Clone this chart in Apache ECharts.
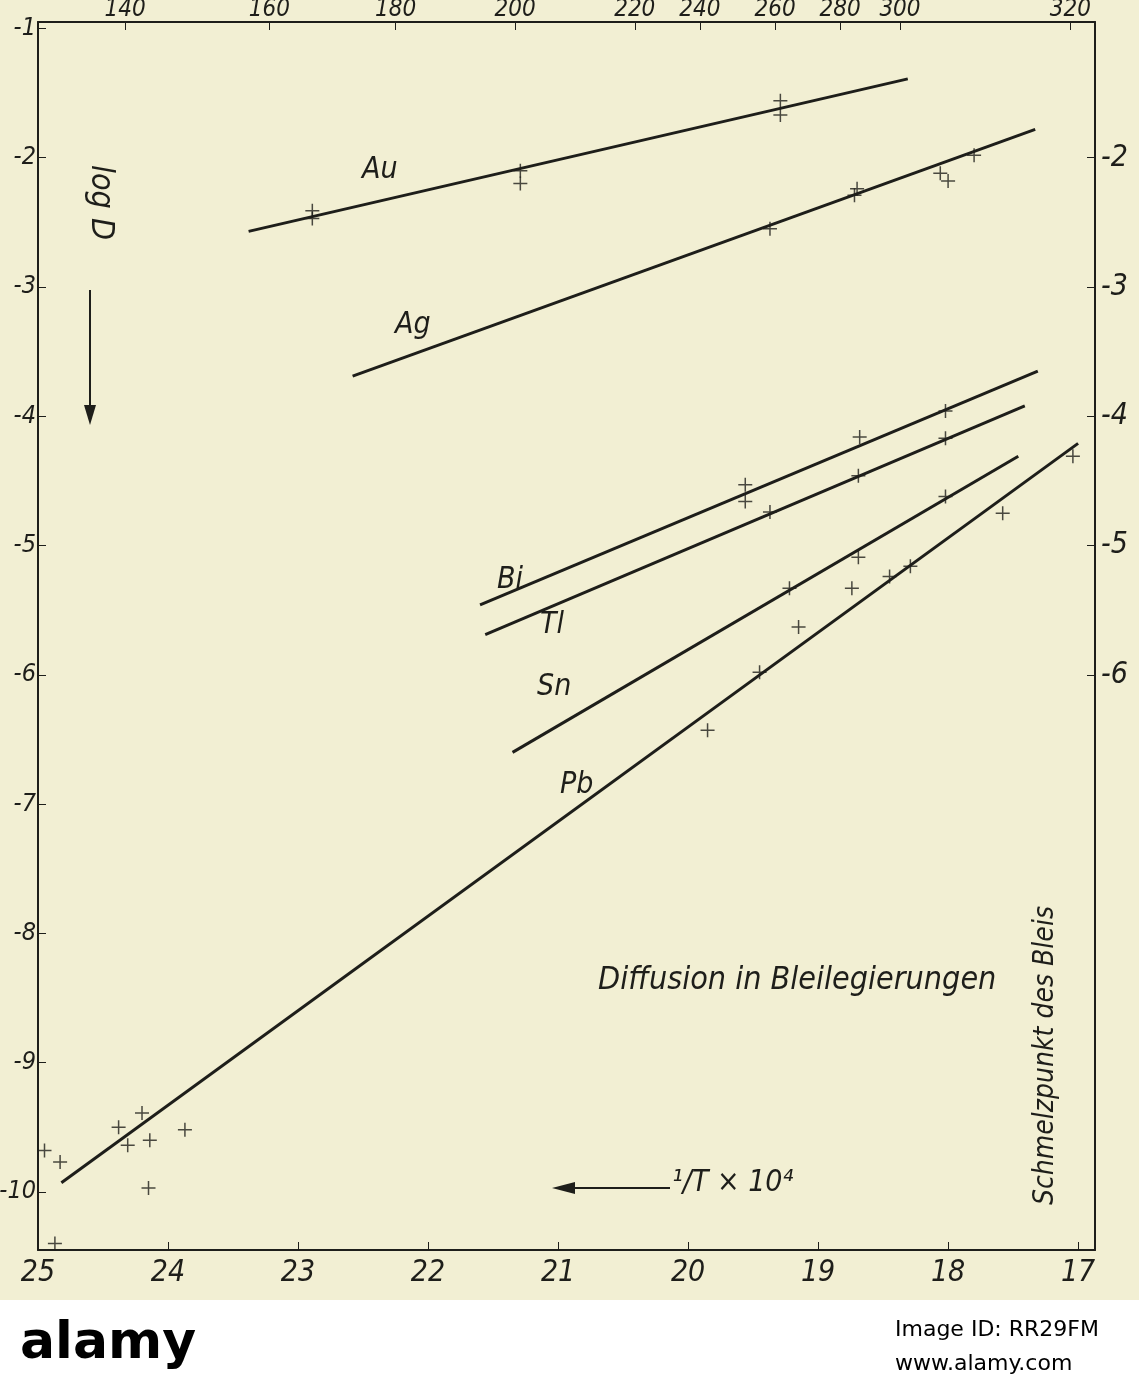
<!DOCTYPE html><html><head><meta charset="utf-8">
<script src="https://cdn.jsdelivr.net/npm/echarts@6/dist/echarts.min.js"></script>
<style>html,body{margin:0;background:#fff}#c{width:1139px;height:1390px}</style></head><body><div id="c"></div>
<script>
const xTicks=[25,24,23,22,21,20,19,18,17];
const yTicksLeft=[-1,-2,-3,-4,-5,-6,-7,-8,-9,-10];
const yTicksRight=[-2,-3,-4,-5,-6];
const tempTicks=[140,160,180,200,220,240,260,280,300,320];
const tempTickPos=[24.33,23.22,22.25,21.33,20.41,19.91,19.33,18.83,18.37,17.06];
const fitLines={
 Au:[[23.38,-2.57],[18.31,-1.39]],
 Ag:[[22.58,-3.69],[17.33,-1.78]],
 Bi:[[21.6,-5.46],[17.31,-3.65]],
 Tl:[[21.56,-5.69],[17.41,-3.92]],
 Sn:[[21.35,-6.60],[17.46,-4.31]],
 Pb:[[24.82,-9.93],[17.0,-4.21]]
};
const pointsAu=[[22.89,-2.41],[22.89,-2.47],[21.29,-2.10],[21.29,-2.20],[19.29,-1.56],[19.29,-1.67]];
const pointsAg=[[19.37,-2.55],[18.72,-2.29],[18.70,-2.24],[18.06,-2.12],[18.0,-2.18],[17.8,-1.98]];
const pointsBi=[[19.56,-4.53],[19.56,-4.66],[18.68,-4.16],[18.02,-3.96]];
const pointsTl=[[19.37,-4.74],[18.69,-4.46],[18.02,-4.17]];
const pointsSn=[[19.22,-5.33],[18.69,-5.09],[18.02,-4.62]];
const pointsPb=[[19.45,-5.98],[19.15,-5.63],[18.74,-5.33],[18.45,-5.24],[18.29,-5.16],[19.85,-6.43],[17.58,-4.75],[17.04,-4.31],
 [24.95,-9.68],[24.83,-9.77],[24.38,-9.50],[24.31,-9.64],[24.2,-9.39],[24.14,-9.6],[24.15,-9.97],[23.87,-9.52],[24.87,-10.4]];
const ink='#1e1e1a', bg='#f2efd3';
const FAM='"Liberation Sans Narrow","DejaVu Sans Condensed",sans-serif';
const lab={color:ink,fontStyle:'italic',fontFamily:FAM,fontSize:30};
const chart=echarts.init(document.getElementById('c'));
const series=[];
for(const k in fitLines) series.push({type:'line',data:fitLines[k],symbol:'none',lineStyle:{color:ink,width:3},silent:true});
[pointsAu,pointsAg,pointsBi,pointsTl,pointsSn,pointsPb].forEach(p=>series.push({type:'scatter',data:p,
 symbol:'path://M5,0L5,10M0,5L10,5',symbolSize:[14,14],itemStyle:{color:'none',borderColor:ink,borderWidth:1.5}}));
const txt=(x,y,s,rot,size)=>({type:'text',x,y,rotation:rot||0,style:{text:s,fill:ink,font:`italic ${size||30}px ${FAM}`}});
chart.setOption({
 backgroundColor:bg,animation:false,
 grid:{left:38,right:44,top:22,bottom:140,containLabel:false,outerBoundsMode:'none'},
 xAxis:[{type:'value',min:16.87,max:25,inverse:true,position:'bottom',
   axisLine:{lineStyle:{color:ink,width:2}},splitLine:{show:false},
   axisTick:{inside:true,length:8,customValues:xTicks,lineStyle:{color:ink}},
   axisLabel:Object.assign({customValues:xTicks,margin:8},lab)},
  {type:'value',min:16.87,max:25,inverse:true,position:'top',
   axisLine:{lineStyle:{color:ink,width:2}},splitLine:{show:false},
   axisTick:{inside:true,length:8,customValues:tempTickPos,lineStyle:{color:ink}},
   axisLabel:Object.assign({customValues:tempTickPos,formatter:v=>String(tempTicks[tempTickPos.indexOf(v)]),margin:0},lab,{fontSize:24})}],
 yAxis:[{type:'value',min:-10.45,max:-0.95,position:'left',
   axisLine:{lineStyle:{color:ink,width:2}},splitLine:{show:false},
   axisTick:{inside:true,length:8,customValues:yTicksLeft,lineStyle:{color:ink}},
   axisLabel:Object.assign({customValues:yTicksLeft,margin:2},lab,{fontSize:25})}],
 series,
 graphic:[],
});
chart.setOption({yAxis:[{},{type:'value',min:-10.45,max:-0.95,position:'right',
   axisLine:{lineStyle:{color:ink,width:2}},splitLine:{show:false},
   axisTick:{inside:true,length:8,customValues:yTicksRight,lineStyle:{color:ink}},
   axisLabel:Object.assign({customValues:yTicksRight,margin:6},lab)}],
 graphic:[
  txt(362,155,'Au'),txt(395,310,'Ag'),txt(497,565,'Bi'),txt(540,610,'Tl'),txt(537,672,'Sn'),txt(560,770,'Pb'),
  txt(116,165,'log D',-Math.PI/2,32),
  {type:'line',shape:{x1:90,y1:290,x2:90,y2:410},style:{stroke:ink,lineWidth:2}},
  {type:'polygon',shape:{points:[[84,405],[96,405],[90,425]]},style:{fill:ink}},
  txt(598,965,'Diffusion in Bleilegierungen',0,32),
  txt(1032,1205,'Schmelzpunkt des Bleis',Math.PI/2,28),
  {type:'line',shape:{x1:570,y1:1188,x2:670,y2:1188},style:{stroke:ink,lineWidth:2}},
  {type:'polygon',shape:{points:[[552,1188],[575,1182],[575,1194]]},style:{fill:ink}},
  txt(672,1168,'¹/T × 10⁴',0,30),
  {type:'rect',shape:{x:0,y:1300,width:1139,height:90},style:{fill:'#fff'}},
  {type:'text',x:20,y:1318,style:{text:'alamy',fill:'#000',font:'bold 52px "DejaVu Sans",sans-serif'}},
  {type:'text',x:895,y:1313,style:{text:'Image ID: RR29FM\nwww.alamy.com',fill:'#000',font:'22px "DejaVu Sans",sans-serif',lineHeight:34}}
 ]});
</script></body></html>
